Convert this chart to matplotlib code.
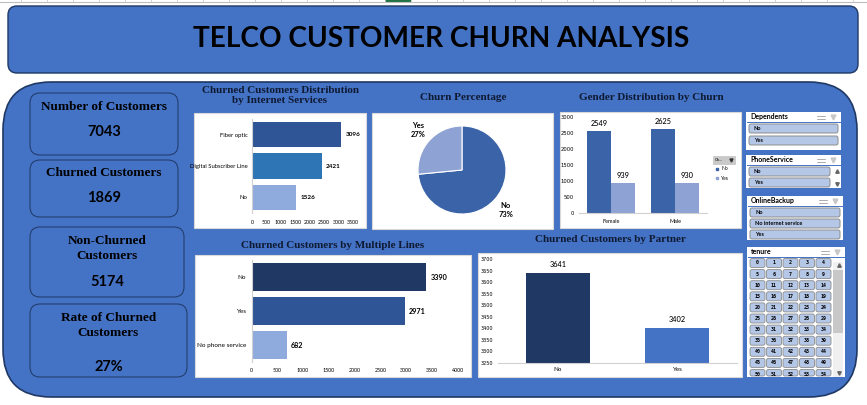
import matplotlib
matplotlib.use("Agg")
import matplotlib.pyplot as plt
from matplotlib.patches import FancyBboxPatch, Rectangle

# chart values
internet_labels = ["Fiber optic", "Digital Subscriber Line", "No"]
internet_values = [3096, 2421, 1526]
churn_labels = ["No\n73%", "Yes\n27%"]
churn_values = [5174, 1869]
gender_labels = ["Female", "Male"]
gender_no = [2549, 2625]
gender_yes = [939, 930]
lines_labels = ["No", "Yes", "No phone service"]
lines_values = [3390, 2971, 682]
partner_labels = ["No", "Yes"]
partner_values = [3641, 3402]

kpi_titles = ["Number of Customers", "Churned Customers", "Non-Churned\nCustomers", "Rate of Churned\nCustomers"]
kpi_values = ["7043", "1869", "5174", "27%"]

tenure_rows = [
    ["0", "1", "2", "3", "4"],
    ["5", "6", "7", "8", "9"],
    ["10", "11", "12", "13", "14"],
    ["15", "16", "17", "18", "19"],
    ["20", "21", "22", "23", "24"],
    ["25", "26", "27", "28", "29"],
    ["30", "31", "32", "33", "34"],
    ["35", "36", "37", "38", "39"],
    ["40", "41", "42", "43", "44"],
    ["45", "46", "47", "48", "49"],
    ["50", "51", "52", "53", "54"],
]

W, H = 867, 405
BLUE = "#4472C4"
DARK = "#1F3864"
SERIF = "Liberation Serif"
SANS = "Lato"

fig = plt.figure(figsize=(W / 100, H / 100), dpi=100, facecolor="white")
bg = fig.add_axes([0, 0, 1, 1])
bg.set_xlim(0, W)
bg.set_ylim(H, 0)
bg.axis("off")


def rounded(x0, y0, x1, y1, r, face, edge=DARK, lw=1.0, ax=bg):
    p = FancyBboxPatch((x0 + r, y0 + r), x1 - x0 - 2 * r, y1 - y0 - 2 * r,
                       boxstyle="round,pad=%f,rounding_size=%f" % (r, r),
                       facecolor=face, edgecolor=edge, linewidth=lw)
    ax.add_patch(p)


def white_panel(x0, y0, x1, y1):
    bg.add_patch(Rectangle((x0, y0), x1 - x0, y1 - y0, facecolor="white", edgecolor="#D9D9D9", linewidth=0.8))


def px_axes(x0, y0, x1, y1):
    # axes placed by pixel box, y from the top of the picture
    ax = fig.add_axes([x0 / W, 1 - y1 / H, (x1 - x0) / W, (y1 - y0) / H])
    ax.patch.set_alpha(0)
    for s in ["top", "right"]:
        ax.spines[s].set_visible(False)
    return ax


def hbars(ax, labels, values, colors, xmax, step, cat_size, val_size, tick_size, pad, ypad):
    ax.barh(range(len(values)), values, height=0.8, color=colors)
    ax.set_yticks(range(len(values)), labels, fontsize=cat_size, family=SANS)
    ax.set_ylim(len(values) - 0.5, -0.5)
    ax.set_xlim(0, xmax)
    ax.set_xticks(range(0, xmax + 1, step))
    ax.tick_params(axis="x", length=0, labelsize=tick_size, pad=pad)
    ax.tick_params(axis="y", length=0, pad=ypad)
    ax.spines["bottom"].set_visible(False)
    ax.spines["left"].set_color("#D0D0D0")
    for t in ax.get_xticklabels():
        t.set_family(SANS)
    for i, v in enumerate(values):
        ax.annotate(str(v), (v, i), xytext=(3, 0), textcoords="offset points", va="center",
                    fontsize=val_size, family=SANS, fontweight="bold", annotation_clip=False)


# spreadsheet strip at the top
bg.plot([0, W], [1.5, 1.5], color="#BDBDBD", lw=0.8)
for x in range(21, W, 26):
    bg.plot([x, x], [0, 2], color="#C8C8C8", lw=0.6)
bg.add_patch(Rectangle((385, 0), 26, 2, facecolor="#217346", edgecolor="none"))

# banner and main panel
rounded(8, 6, 858, 73, 9, BLUE)
bg.text(441, 39, "TELCO CUSTOMER CHURN ANALYSIS", ha="center", va="center", fontsize=20.2,
        fontweight="bold", family=SANS, color="black")
rounded(3, 82, 857, 397, 48, BLUE, lw=1.2)

# KPI cards
card_boxes = [(30, 93, 178, 155), (30, 160, 178, 217), (30, 227, 184, 297), (30, 304, 187, 377)]
title_y = [107, 173, 248.5, 325.5]
value_y = [132, 198, 282, 367]
for box, t, v, ty, vy in zip(card_boxes, kpi_titles, kpi_values, title_y, value_y):
    rounded(box[0], box[1], box[2], box[3], 10, "none", lw=0.7)
    cx = (box[0] + box[2]) / 2
    bg.text(cx, ty, t, ha="center", va="center", fontsize=9.5, fontweight="bold", family=SERIF, linespacing=1.3)
    bg.text(cx, vy, v, ha="center", va="center", fontsize=10.5, fontweight="bold", family=SANS)

# chart headings
headings = [
    ("Churned Customers Distribution\nby Internet Services", 280, 95.5),
    ("Churn Percentage", 463, 98),
    ("Gender Distribution by Churn", 651, 97),
    ("Churned Customers by Multiple Lines", 333, 245),
    ("Churned Customers by Partner", 610, 240),
]
for txt, x, y in headings:
    bg.text(x, y, txt, ha="center", va="center", fontsize=8, fontweight="bold", family=SERIF,
            color="#0F1A33", linespacing=1.25)

# white chart panels
white_panel(194, 113, 366, 228)
white_panel(372, 113, 553, 229)
white_panel(560, 112, 741, 228)
white_panel(195, 255, 471, 377)
white_panel(478, 253, 742, 377)

# internet services
ax1 = px_axes(252, 119, 353, 213)
hbars(ax1, internet_labels, internet_values, ["#2F5597", "#2E75B6", "#8FAADC"], 3500, 500, 4.2, 4.6, 3.8, 5, 3)

# churn pie
ax2 = px_axes(418, 126, 506, 214)
wedges, texts = ax2.pie(churn_values, labels=churn_labels, startangle=90, counterclock=False,
                        colors=["#3A63A8", "#8FA2D4"], labeldistance=1.34,
                        wedgeprops={"edgecolor": "white", "linewidth": 0.8},
                        textprops={"fontsize": 5.4, "family": SANS, "fontweight": "bold", "ha": "center",
                                   "linespacing": 1.35})
for t in texts:
    t.set_ha("center")
ax2.set_xlim(-1, 1)
ax2.set_ylim(-1, 1)

# gender
ax3 = px_axes(579, 117, 707, 213)
xs = [0, 1]
b_no = ax3.bar([x - 0.19 for x in xs], gender_no, width=0.365, color="#3A63A8")
b_yes = ax3.bar([x + 0.19 for x in xs], gender_yes, width=0.365, color="#8FA2D4")
ax3.bar_label(b_no, padding=3, fontsize=5.3, family=SANS, fontweight="medium")
ax3.bar_label(b_yes, padding=3, fontsize=5.3, family=SANS, fontweight="medium")
ax3.set_xlim(-0.5, 1.5)
ax3.set_ylim(0, 3000)
ax3.set_xticks(xs, gender_labels, fontsize=4, family=SANS)
ax3.set_yticks(range(0, 3001, 500))
ax3.tick_params(axis="y", length=0, labelsize=3.8, pad=3.5)
ax3.tick_params(axis="x", length=0, pad=4)
ax3.spines["left"].set_visible(False)
ax3.spines["bottom"].set_color("#D0D0D0")

# gender legend (pivot chart field button)
bg.add_patch(Rectangle((713, 156), 22, 7.5, facecolor="#C9C9C9", edgecolor="#BBBBBB", linewidth=0.4))
bg.text(715, 159.8, "Ch...", fontsize=3, va="center", family=SANS)
bg.plot([731], [159.5], marker="v", ms=2.2, color="#333333")
bg.plot([717], [168.5], marker="s", ms=1.5, color="#3A63A8")
bg.plot([717], [178], marker="s", ms=1.5, color="#8FA2D4")
bg.text(721, 168.5, "No", fontsize=3.6, va="center", family=SANS)
bg.text(721, 178, "Yes", fontsize=3.6, va="center", family=SANS)

# multiple lines
ax4 = px_axes(251.5, 260, 457.7, 362)
hbars(ax4, lines_labels, lines_values, ["#1F3864", "#2F5597", "#8FAADC"], 4000, 500, 4.6, 5.2, 3.8, 4, 4)

# partner
ax5 = px_axes(498, 259, 737, 363)
b5 = ax5.bar([0, 1], partner_values, width=0.535, color=["#1F3864", BLUE])
ax5.bar_label(b5, padding=3.5, fontsize=5.3, family=SANS, fontweight="medium")
ax5.set_xlim(-0.5, 1.5)
ax5.set_ylim(3250, 3700)
ax5.set_xticks([0, 1], partner_labels, fontsize=4.5, family=SANS)
ax5.set_yticks(range(3250, 3701, 50))
ax5.tick_params(axis="y", length=0, labelsize=3.5, pad=3.5)
ax5.tick_params(axis="x", length=0, pad=3)
ax5.spines["left"].set_visible(False)
ax5.spines["bottom"].set_color("#D0D0D0")

# slicers
TILE = "#B4C7E7"


def slicer(x0, y0, x1, y1, name, items=None, btn_right=None, spacing=11):
    bg.add_patch(Rectangle((x0, y0), x1 - x0, y1 - y0, facecolor="white", edgecolor="none", zorder=3))
    bg.text(x0 + 4, y0 + 5, name, fontsize=5, fontweight="bold", family=SANS, va="center", zorder=5)
    bg.plot([x0 + 1, x1 - 1], [y0 + 10, y0 + 10], color=BLUE, lw=0.7, zorder=4)
    bg.plot([x1 - 24, x1 - 16], [y0 + 3.5, y0 + 3.5], color="#8C8C8C", lw=0.5, zorder=4)
    bg.plot([x1 - 24, x1 - 16], [y0 + 7, y0 + 7], color="#8C8C8C", lw=0.5, zorder=4)
    bg.plot([x1 - 8], [y0 + 5], marker="v", ms=3.5, color="#C8C8C8", zorder=4)
    if items:
        for i, it in enumerate(items):
            yt = y0 + 12 + i * spacing
            p = FancyBboxPatch((x0 + 5, yt + 2), btn_right - x0 - 7, 5,
                               boxstyle="round,pad=2,rounding_size=2", facecolor=TILE,
                               edgecolor="#8C8C8C", linewidth=0.7, zorder=4)
            bg.add_patch(p)
            bg.text(x0 + 8, yt + 4.5, it, fontsize=4, fontweight="bold", family=SANS, va="center", zorder=5)


slicer(746, 112, 841, 150, "Dependents", ["No", "Yes"], 838, spacing=12)
slicer(746, 155, 841, 188, "PhoneService", ["No", "Yes"], 830)
bg.plot([836.5], [171], marker="^", ms=2.5, color="#666666", zorder=5)
bg.plot([836.5], [184], marker="v", ms=2.5, color="#666666", zorder=5)
slicer(747, 196, 843, 240, "OnlineBackup", ["No", "No internet service", "Yes"], 840)
slicer(747, 247, 845, 377, "tenure")

# tenure scroll bar and tiles
bg.add_patch(Rectangle((833, 262), 10, 115, facecolor="#F0F0F0", edgecolor="none", zorder=4))
bg.add_patch(Rectangle((833, 270), 10, 63, facecolor="#C8C8C8", edgecolor="none", zorder=5))
bg.plot([838.5], [265], marker="^", ms=2.5, color="#666666", zorder=6)
bg.plot([838.5], [373], marker="v", ms=2.5, color="#666666", zorder=6)
for r, row in enumerate(tenure_rows):
    for c, lab in enumerate(row):
        x = 750 + c * 16.5
        y = 258.5 + r * 11.1
        h = min(9, 377 - y - 1)
        p = FancyBboxPatch((x + 2, y + 2), 11, max(h - 4, 0.5), boxstyle="round,pad=2,rounding_size=2",
                           facecolor=TILE, edgecolor="#8C8C8C", linewidth=0.6, zorder=4)
        bg.add_patch(p)
        bg.text(x + 7.5, y + 4.5, lab, ha="center", va="center", fontsize=3.6, fontweight="bold",
                family="DejaVu Sans Mono", zorder=5)

fig.savefig("out.png", dpi=100)
